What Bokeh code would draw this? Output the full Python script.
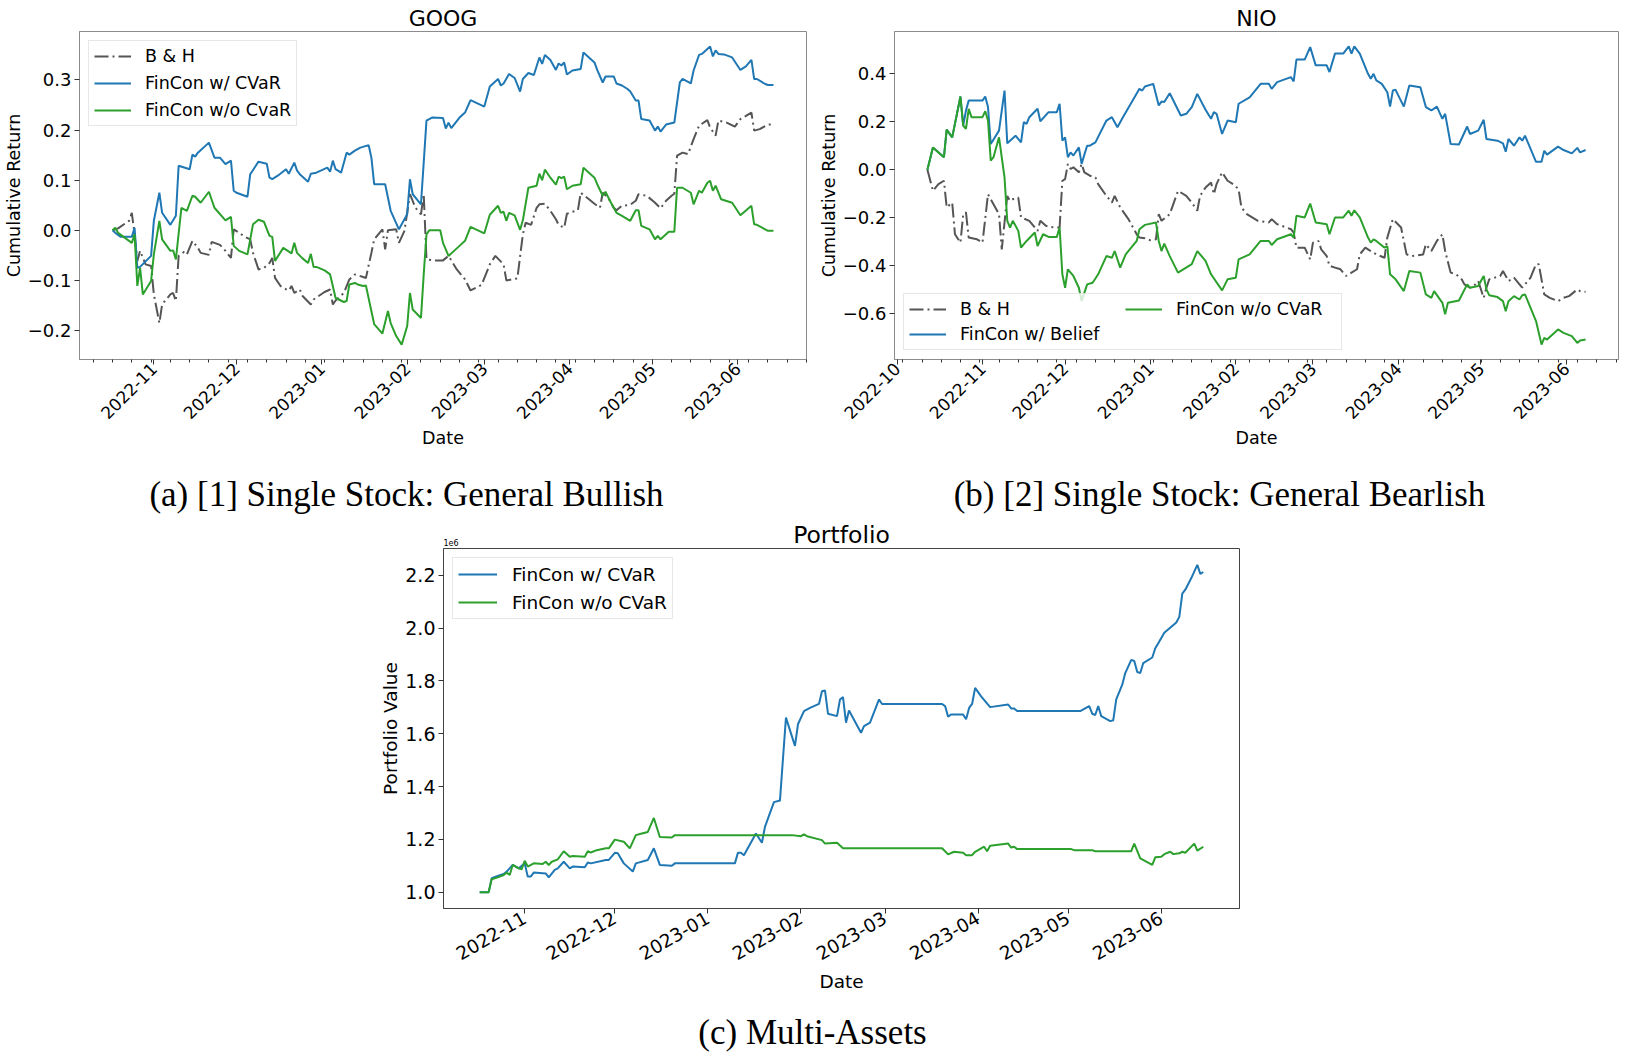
import math
import pandas as pd
from bokeh.plotting import figure
from bokeh.layouts import column, row, Spacer
from bokeh.models import (Range1d, FixedTicker, CustomJSTickFormatter, Legend, LegendItem)
from bokeh.core.properties import value
from bokeh.embed import file_html
from bokeh.resources import INLINE

# ---------------- data (date "MM-DD", Sep-Dec = 2022, Jan-Jun = 2023) ----------------
GOOG_BH = [("10-17", 0.000), ("10-19", 0.004), ("10-23", 0.019), ("10-24", 0.035), ("10-25", -0.008),
           ("10-26", -0.061), ("10-27", -0.041), ("10-29", -0.068), ("10-31", -0.071), ("11-01", -0.128),
           ("11-03", -0.185), ("11-04", -0.148), ("11-05", -0.141), ("11-07", -0.128), ("11-08", -0.125),
           ("11-09", -0.141), ("11-10", -0.051), ("11-12", -0.043), ("11-13", -0.048), ("11-15", -0.021),
           ("11-17", -0.035), ("11-18", -0.045), ("11-21", -0.049), ("11-22", -0.023), ("11-25", -0.029),
           ("11-27", -0.041), ("11-29", -0.055), ("11-30", 0.002), ("12-02", -0.005), ("12-04", -0.013),
           ("12-06", -0.018), ("12-07", -0.045), ("12-09", -0.078), ("12-11", -0.075), ("12-13", -0.065),
           ("12-14", -0.055), ("12-15", -0.095), ("12-17", -0.111), ("12-18", -0.115), ("12-20", -0.120),
           ("12-21", -0.111), ("12-22", -0.125), ("12-24", -0.118), ("12-25", -0.131), ("12-28", -0.148),
           ("12-29", -0.138), ("01-02", -0.123), ("01-04", -0.118), ("01-05", -0.148), ("01-06", -0.140),
           ("01-09", -0.125), ("01-11", -0.098), ("01-13", -0.088), ("01-16", -0.093), ("01-17", -0.095),
           ("01-19", -0.045), ("01-20", -0.018), ("01-23", 0.002), ("01-24", -0.038), ("01-25", 0.000),
           ("01-28", 0.002), ("01-29", -0.025), ("01-31", -0.001), ("02-02", 0.072), ("02-04", 0.045),
           ("02-06", 0.032), ("02-07", 0.072), ("02-08", -0.058), ("02-11", -0.060), ("02-14", -0.060),
           ("02-16", -0.051), ("02-19", -0.078), ("02-22", -0.098), ("02-24", -0.120), ("02-28", -0.109),
           ("03-03", -0.068), ("03-05", -0.051), ("03-08", -0.068), ("03-09", -0.100), ("03-13", -0.096),
           ("03-15", -0.008), ("03-16", 0.015), ("03-18", 0.011), ("03-20", 0.045), ("03-21", 0.052),
           ("03-23", 0.053), ("03-25", 0.039), ("03-27", 0.022), ("03-28", 0.011), ("03-30", 0.005),
           ("03-31", 0.033), ("04-02", 0.037), ("04-04", 0.040), ("04-05", 0.075), ("04-08", 0.062),
           ("04-10", 0.053), ("04-12", 0.045), ("04-13", 0.075), ("04-15", 0.065), ("04-17", 0.045),
           ("04-18", 0.040), ("04-20", 0.049), ("04-23", 0.051), ("04-25", 0.059), ("04-26", 0.072),
           ("04-29", 0.069), ("05-02", 0.055), ("05-04", 0.044), ("05-06", 0.059), ("05-08", 0.069),
           ("05-09", 0.073), ("05-10", 0.149), ("05-12", 0.155), ("05-14", 0.152), ("05-16", 0.182),
           ("05-18", 0.209), ("05-21", 0.220), ("05-22", 0.205), ("05-24", 0.189), ("05-25", 0.219),
           ("05-28", 0.215), ("05-31", 0.207), ("06-02", 0.222), ("06-06", 0.235), ("06-07", 0.199),
           ("06-09", 0.202), ("06-12", 0.211), ("06-14", 0.211)]

GOOG_CVAR = [("10-17", 0.000), ("10-18", -0.005), ("10-20", -0.013), ("10-24", -0.013), ("10-25", 0.005),
             ("10-26", -0.075), ("10-27", -0.073), ("10-31", -0.051), ("11-01", 0.019), ("11-03", 0.075),
             ("11-04", 0.035), ("11-07", 0.011), ("11-09", 0.029), ("11-10", 0.129), ("11-14", 0.122),
             ("11-15", 0.151), ("11-16", 0.147), ("11-17", 0.155), ("11-21", 0.175), ("11-23", 0.145),
             ("11-25", 0.145), ("11-27", 0.132), ("11-29", 0.139), ("11-30", 0.079), ("12-01", 0.075),
             ("12-05", 0.067), ("12-06", 0.112), ("12-09", 0.137), ("12-12", 0.133), ("12-13", 0.105),
             ("12-14", 0.102), ("12-16", 0.109), ("12-19", 0.122), ("12-20", 0.113), ("12-22", 0.135),
             ("12-23", 0.119), ("12-24", 0.112), ("12-27", 0.097), ("12-28", 0.113), ("12-30", 0.115),
             ("01-03", 0.125), ("01-04", 0.117), ("01-05", 0.139), ("01-06", 0.122), ("01-08", 0.115),
             ("01-10", 0.155), ("01-11", 0.151), ("01-13", 0.159), ("01-15", 0.165), ("01-18", 0.170),
             ("01-19", 0.145), ("01-20", 0.092), ("01-24", 0.092), ("01-26", 0.039), ("01-29", 0.002),
             ("02-01", 0.032), ("02-02", 0.102), ("02-03", 0.072), ("02-06", 0.052), ("02-08", 0.219),
             ("02-10", 0.225), ("02-14", 0.224), ("02-15", 0.203), ("02-16", 0.215), ("02-17", 0.204),
             ("02-20", 0.225), ("02-22", 0.235), ("02-24", 0.260), ("03-01", 0.247), ("03-03", 0.287),
             ("03-06", 0.302), ("03-07", 0.289), ("03-08", 0.293), ("03-10", 0.312), ("03-12", 0.304),
             ("03-14", 0.277), ("03-15", 0.302), ("03-17", 0.314), ("03-19", 0.310), ("03-21", 0.345),
             ("03-22", 0.332), ("03-23", 0.350), ("03-25", 0.340), ("03-27", 0.320), ("03-28", 0.333),
             ("03-29", 0.329), ("03-30", 0.335), ("03-31", 0.311), ("04-02", 0.319), ("04-05", 0.322),
             ("04-06", 0.355), ("04-08", 0.345), ("04-10", 0.335), ("04-11", 0.320), ("04-13", 0.295),
             ("04-14", 0.307), ("04-17", 0.307), ("04-18", 0.293), ("04-20", 0.289), ("04-22", 0.282),
             ("04-23", 0.277), ("04-25", 0.259), ("04-26", 0.259), ("04-27", 0.222), ("04-30", 0.219),
             ("05-02", 0.199), ("05-03", 0.207), ("05-04", 0.197), ("05-06", 0.211), ("05-09", 0.215),
             ("05-11", 0.295), ("05-12", 0.302), ("05-15", 0.293), ("05-16", 0.319), ("05-18", 0.350),
             ("05-19", 0.352), ("05-22", 0.367), ("05-23", 0.347), ("05-24", 0.359), ("05-25", 0.352),
             ("05-27", 0.351), ("05-30", 0.345), ("06-02", 0.320), ("06-04", 0.327), ("06-06", 0.340),
             ("06-07", 0.302), ("06-08", 0.302), ("06-11", 0.292), ("06-12", 0.290), ("06-14", 0.290)]

GOOG_NOCVAR = [("10-17", 0.000), ("10-18", 0.005), ("10-19", -0.005), ("10-24", -0.025), ("10-25", -0.008),
               ("10-26", -0.111), ("10-27", -0.075), ("10-28", -0.128), ("10-31", -0.101), ("11-01", -0.048),
               ("11-03", 0.019), ("11-04", -0.018), ("11-07", -0.041), ("11-08", -0.040), ("11-09", -0.058),
               ("11-11", 0.045), ("11-13", 0.039), ("11-15", 0.069), ("11-16", 0.067), ("11-18", 0.055),
               ("11-21", 0.077), ("11-23", 0.045), ("11-27", 0.020), ("11-29", 0.027), ("11-30", -0.031),
               ("12-02", -0.041), ("12-05", -0.048), ("12-07", 0.012), ("12-09", 0.021), ("12-11", 0.017),
               ("12-13", -0.011), ("12-14", -0.013), ("12-15", -0.061), ("12-18", -0.035), ("12-21", -0.046),
               ("12-22", -0.025), ("12-23", -0.045), ("12-25", -0.056), ("12-27", -0.065), ("12-28", -0.047),
               ("12-29", -0.073), ("12-30", -0.073), ("01-02", -0.080), ("01-04", -0.088), ("01-06", -0.135),
               ("01-09", -0.143), ("01-10", -0.141), ("01-11", -0.108), ("01-13", -0.105), ("01-14", -0.108),
               ("01-16", -0.111), ("01-17", -0.110), ("01-20", -0.187), ("01-23", -0.206), ("01-25", -0.161),
               ("01-26", -0.185), ("01-28", -0.211), ("01-30", -0.228), ("02-01", -0.191), ("02-02", -0.125),
               ("02-03", -0.158), ("02-06", -0.175), ("02-07", -0.088), ("02-08", -0.008), ("02-09", 0.000),
               ("02-13", 0.000), ("02-14", -0.025), ("02-16", -0.051), ("02-20", -0.031), ("02-22", -0.021),
               ("02-24", 0.007), ("03-01", -0.006), ("03-03", 0.031), ("03-06", 0.049), ("03-07", 0.035),
               ("03-08", 0.037), ("03-09", 0.019), ("03-10", 0.035), ("03-12", 0.030), ("03-14", 0.001),
               ("03-15", 0.020), ("03-17", 0.085), ("03-20", 0.089), ("03-21", 0.113), ("03-22", 0.100),
               ("03-23", 0.121), ("03-25", 0.105), ("03-27", 0.091), ("03-28", 0.107), ("03-29", 0.104),
               ("03-30", 0.107), ("03-31", 0.082), ("04-02", 0.089), ("04-05", 0.092), ("04-06", 0.125),
               ("04-08", 0.115), ("04-10", 0.105), ("04-11", 0.092), ("04-13", 0.069), ("04-14", 0.077),
               ("04-16", 0.055), ("04-18", 0.035), ("04-20", 0.029), ("04-23", 0.019), ("04-25", 0.040),
               ("04-26", 0.040), ("04-27", 0.009), ("04-30", 0.002), ("05-02", -0.018), ("05-03", -0.011),
               ("05-04", -0.018), ("05-07", -0.003), ("05-09", -0.003), ("05-10", 0.085), ("05-12", 0.085),
               ("05-15", 0.075), ("05-16", 0.052), ("05-18", 0.079), ("05-19", 0.075), ("05-21", 0.095),
               ("05-22", 0.099), ("05-23", 0.079), ("05-24", 0.089), ("05-26", 0.062), ("05-30", 0.055),
               ("06-02", 0.030), ("06-06", 0.049), ("06-07", 0.012), ("06-08", 0.011), ("06-12", -0.001),
               ("06-14", -0.001)]

NIO_BH = [("10-12", 0.000), ("10-14", -0.088), ("10-16", -0.060), ("10-18", -0.046), ("10-19", -0.157),
          ("10-21", -0.137), ("10-22", -0.269), ("10-24", -0.304), ("10-25", -0.185), ("10-26", -0.178),
          ("10-27", -0.283), ("10-30", -0.290), ("10-31", -0.297), ("11-01", -0.304), ("11-03", -0.102),
          ("11-04", -0.123), ("11-07", -0.185), ("11-08", -0.332), ("11-10", -0.109), ("11-11", -0.130),
          ("11-12", -0.123), ("11-14", -0.116), ("11-15", -0.199), ("11-18", -0.213), ("11-21", -0.255),
          ("11-22", -0.213), ("11-24", -0.234), ("11-27", -0.241), ("11-29", -0.241), ("11-30", -0.046),
          ("12-01", -0.039), ("12-02", 0.024), ("12-03", 0.003), ("12-04", 0.010), ("12-06", -0.011),
          ("12-07", 0.024), ("12-08", -0.011), ("12-10", -0.025), ("12-12", -0.032), ("12-13", -0.060),
          ("12-16", -0.109), ("12-18", -0.137), ("12-19", -0.109), ("12-21", -0.157), ("12-24", -0.206),
          ("12-27", -0.269), ("12-28", -0.283), ("12-30", -0.286), ("01-01", -0.294), ("01-03", -0.290),
          ("01-04", -0.185), ("01-05", -0.213), ("01-08", -0.185), ("01-11", -0.088), ("01-14", -0.109),
          ("01-16", -0.137), ("01-18", -0.171), ("01-19", -0.109), ("01-21", -0.074), ("01-23", -0.053),
          ("01-24", -0.102), ("01-25", -0.060), ("01-27", -0.011), ("01-29", -0.046), ("01-31", -0.060),
          ("02-02", -0.081), ("02-03", -0.157), ("02-05", -0.185), ("02-09", -0.213), ("02-13", -0.220),
          ("02-14", -0.206), ("02-16", -0.227), ("02-21", -0.248), ("02-22", -0.262), ("02-23", -0.325),
          ("02-26", -0.325), ("02-28", -0.374), ("03-01", -0.304), ("03-03", -0.297), ("03-04", -0.332),
          ("03-06", -0.360), ("03-07", -0.401), ("03-09", -0.408), ("03-11", -0.415), ("03-13", -0.443),
          ("03-15", -0.429), ("03-17", -0.415), ("03-18", -0.353), ("03-20", -0.325), ("03-22", -0.339),
          ("03-24", -0.353), ("03-27", -0.367), ("03-28", -0.283), ("03-30", -0.206), ("04-02", -0.241),
          ("04-03", -0.297), ("04-04", -0.353), ("04-06", -0.360), ("04-10", -0.353), ("04-11", -0.311),
          ("04-13", -0.339), ("04-15", -0.297), ("04-17", -0.269), ("04-18", -0.339), ("04-20", -0.429),
          ("04-22", -0.436), ("04-24", -0.457), ("04-25", -0.478), ("04-27", -0.492), ("04-29", -0.478),
          ("04-30", -0.464), ("05-02", -0.534), ("05-03", -0.492), ("05-04", -0.457), ("05-06", -0.450),
          ("05-08", -0.443), ("05-09", -0.422), ("05-11", -0.464), ("05-13", -0.450), ("05-15", -0.478),
          ("05-16", -0.492), ("05-17", -0.478), ("05-19", -0.450), ("05-21", -0.394), ("05-22", -0.394),
          ("05-24", -0.520), ("05-26", -0.534), ("05-29", -0.548), ("05-31", -0.534), ("06-02", -0.527),
          ("06-05", -0.499), ("06-06", -0.506), ("06-08", -0.509)]

NIO_BELIEF = [("10-12", 0.000), ("10-14", 0.093), ("10-18", 0.052), ("10-19", 0.167), ("10-21", 0.135),
              ("10-24", 0.305), ("10-25", 0.184), ("10-26", 0.247), ("10-27", 0.288), ("11-01", 0.288),
              ("11-02", 0.305), ("11-03", 0.261), ("11-04", 0.107), ("11-07", 0.163), ("11-09", 0.330),
              ("11-10", 0.110), ("11-13", 0.142), ("11-15", 0.114), ("11-16", 0.198), ("11-17", 0.191),
              ("11-18", 0.219), ("11-21", 0.254), ("11-22", 0.202), ("11-25", 0.240), ("11-28", 0.240),
              ("11-29", 0.275), ("11-30", 0.121), ("12-01", 0.135), ("12-02", 0.052), ("12-03", 0.072),
              ("12-04", 0.059), ("12-06", 0.093), ("12-07", 0.024), ("12-08", 0.063), ("12-09", 0.100),
              ("12-10", 0.100), ("12-12", 0.114), ("12-16", 0.205), ("12-18", 0.219), ("12-20", 0.177),
              ("12-22", 0.219), ("12-28", 0.337), ("12-29", 0.330), ("12-30", 0.347), ("01-02", 0.358),
              ("01-04", 0.268), ("01-05", 0.284), ("01-06", 0.282), ("01-08", 0.319), ("01-12", 0.226),
              ("01-14", 0.233), ("01-16", 0.261), ("01-18", 0.316), ("01-21", 0.250), ("01-23", 0.212),
              ("01-24", 0.240), ("01-25", 0.233), ("01-27", 0.149), ("01-29", 0.205), ("02-01", 0.198),
              ("02-02", 0.275), ("02-06", 0.302), ("02-10", 0.358), ("02-13", 0.358), ("02-14", 0.337),
              ("02-16", 0.365), ("02-21", 0.386), ("02-22", 0.368), ("02-23", 0.459), ("02-26", 0.459),
              ("02-28", 0.511), ("03-02", 0.435), ("03-06", 0.435), ("03-07", 0.407), ("03-09", 0.484),
              ("03-12", 0.484), ("03-14", 0.514), ("03-15", 0.484), ("03-16", 0.514), ("03-18", 0.484),
              ("03-21", 0.400), ("03-22", 0.379), ("03-23", 0.400), ("03-24", 0.372), ("03-26", 0.358),
              ("03-28", 0.323), ("03-29", 0.263), ("03-30", 0.330), ("03-31", 0.333), ("04-03", 0.263),
              ("04-05", 0.351), ("04-09", 0.344), ("04-11", 0.261), ("04-13", 0.247), ("04-15", 0.263),
              ("04-17", 0.212), ("04-18", 0.233), ("04-20", 0.107), ("04-23", 0.105), ("04-26", 0.180),
              ("04-27", 0.149), ("04-30", 0.163), ("05-02", 0.208), ("05-03", 0.128), ("05-07", 0.121),
              ("05-09", 0.110), ("05-10", 0.075), ("05-11", 0.128), ("05-13", 0.100), ("05-15", 0.135),
              ("05-16", 0.121), ("05-17", 0.142), ("05-21", 0.033), ("05-23", 0.033), ("05-24", 0.079),
              ("05-25", 0.063), ("05-29", 0.096), ("05-31", 0.082), ("06-03", 0.068), ("06-05", 0.091),
              ("06-06", 0.072), ("06-08", 0.082)]

NIO_NOCVAR = [("10-12", 0.000), ("10-14", 0.093), ("10-18", 0.052), ("10-19", 0.167), ("10-21", 0.135),
              ("10-24", 0.305), ("10-25", 0.184), ("10-26", 0.170), ("10-27", 0.254), ("10-28", 0.219),
              ("11-01", 0.219), ("11-02", 0.244), ("11-03", 0.205), ("11-04", 0.038), ("11-05", 0.052),
              ("11-07", 0.135), ("11-09", -0.032), ("11-10", -0.213), ("11-11", -0.241), ("11-12", -0.213),
              ("11-14", -0.255), ("11-15", -0.325), ("11-17", -0.297), ("11-20", -0.262), ("11-21", -0.318),
              ("11-23", -0.269), ("11-25", -0.280), ("11-28", -0.280), ("11-29", -0.241), ("11-30", -0.436),
              ("12-01", -0.492), ("12-02", -0.415), ("12-04", -0.443), ("12-06", -0.492), ("12-07", -0.548),
              ("12-09", -0.478), ("12-11", -0.471), ("12-13", -0.436), ("12-16", -0.360), ("12-18", -0.367),
              ("12-19", -0.339), ("12-21", -0.408), ("12-23", -0.353), ("12-27", -0.297), ("12-28", -0.248),
              ("12-30", -0.230), ("01-03", -0.220), ("01-04", -0.297), ("01-05", -0.339), ("01-06", -0.308),
              ("01-08", -0.360), ("01-11", -0.429), ("01-16", -0.394), ("01-18", -0.339), ("01-21", -0.380),
              ("01-23", -0.436), ("01-27", -0.503), ("01-29", -0.457), ("02-01", -0.450), ("02-02", -0.374),
              ("02-06", -0.353), ("02-10", -0.297), ("02-13", -0.297), ("02-14", -0.314), ("02-16", -0.290),
              ("02-21", -0.269), ("02-22", -0.283), ("02-23", -0.192), ("02-26", -0.199), ("02-28", -0.141),
              ("03-02", -0.220), ("03-06", -0.227), ("03-07", -0.269), ("03-09", -0.199), ("03-12", -0.199),
              ("03-14", -0.171), ("03-15", -0.192), ("03-16", -0.169), ("03-18", -0.199), ("03-21", -0.283),
              ("03-22", -0.304), ("03-23", -0.290), ("03-24", -0.297), ("03-27", -0.325), ("03-28", -0.318),
              ("03-29", -0.436), ("03-31", -0.457), ("04-03", -0.506), ("04-05", -0.422), ("04-09", -0.429),
              ("04-11", -0.520), ("04-13", -0.534), ("04-14", -0.506), ("04-17", -0.555), ("04-18", -0.603),
              ("04-19", -0.555), ("04-23", -0.545), ("04-26", -0.478), ("04-27", -0.492), ("04-30", -0.485),
              ("05-02", -0.443), ("05-03", -0.499), ("05-04", -0.523), ("05-07", -0.531), ("05-09", -0.548),
              ("05-10", -0.590), ("05-11", -0.548), ("05-13", -0.527), ("05-15", -0.541), ("05-16", -0.523),
              ("05-17", -0.520), ("05-21", -0.631), ("05-23", -0.729), ("05-24", -0.701), ("05-25", -0.708),
              ("05-29", -0.666), ("05-31", -0.680), ("06-03", -0.694), ("06-05", -0.722), ("06-06", -0.712),
              ("06-08", -0.708)]

PF_CVAR = [("10-17", 1.000), ("10-20", 1.000), ("10-21", 1.053), ("10-23", 1.061), ("10-25", 1.069),
           ("10-26", 1.078), ("10-28", 1.103), ("10-30", 1.090), ("11-01", 1.109), ("11-02", 1.059),
           ("11-03", 1.059), ("11-04", 1.074), ("11-08", 1.071), ("11-09", 1.056), ("11-11", 1.084),
           ("11-12", 1.090), ("11-14", 1.115), ("11-16", 1.090), ("11-17", 1.097), ("11-21", 1.094),
           ("11-22", 1.112), ("11-23", 1.109), ("11-28", 1.122), ("11-29", 1.122), ("12-01", 1.149),
           ("12-02", 1.147), ("12-04", 1.109), ("12-07", 1.078), ("12-08", 1.109), ("12-12", 1.122),
           ("12-14", 1.166), ("12-16", 1.103), ("12-20", 1.100), ("12-21", 1.109), ("01-10", 1.109),
           ("01-11", 1.149), ("01-12", 1.149), ("01-13", 1.140), ("01-17", 1.222), ("01-19", 1.187),
           ("01-20", 1.247), ("01-23", 1.341), ("01-25", 1.347), ("01-27", 1.661), ("01-30", 1.554),
           ("01-31", 1.636), ("02-02", 1.686), ("02-04", 1.698), ("02-07", 1.713), ("02-08", 1.761),
           ("02-09", 1.764), ("02-10", 1.676), ("02-13", 1.667), ("02-14", 1.730), ("02-15", 1.739),
           ("02-16", 1.642), ("02-17", 1.688), ("02-21", 1.604), ("02-22", 1.629), ("02-24", 1.642),
           ("02-27", 1.730), ("02-28", 1.713), ("03-20", 1.713), ("03-21", 1.705), ("03-22", 1.665),
           ("03-23", 1.673), ("03-27", 1.673), ("03-28", 1.655), ("03-29", 1.698), ("03-30", 1.713),
           ("03-31", 1.774), ("04-02", 1.742), ("04-05", 1.701), ("04-11", 1.711), ("04-12", 1.696),
           ("04-13", 1.696), ("04-14", 1.686), ("05-05", 1.686), ("05-08", 1.705), ("05-09", 1.676),
           ("05-10", 1.671), ("05-11", 1.705), ("05-12", 1.667), ("05-15", 1.648), ("05-16", 1.651),
           ("05-17", 1.730), ("05-19", 1.786), ("05-20", 1.830), ("05-22", 1.880), ("05-23", 1.876),
           ("05-24", 1.834), ("05-25", 1.830), ("05-26", 1.868), ("05-29", 1.889), ("05-30", 1.924),
           ("05-31", 1.943), ("06-02", 1.983), ("06-06", 2.022), ("06-07", 2.043), ("06-08", 2.131),
           ("06-09", 2.146), ("06-11", 2.190), ("06-13", 2.240), ("06-14", 2.206), ("06-15", 2.213)]

PF_NOCVAR = [("10-17", 1.000), ("10-20", 1.000), ("10-21", 1.049), ("10-23", 1.056), ("10-25", 1.065),
             ("10-26", 1.074), ("10-27", 1.065), ("10-28", 1.103), ("10-30", 1.090), ("10-31", 1.087),
             ("11-01", 1.119), ("11-02", 1.097), ("11-04", 1.109), ("11-07", 1.107), ("11-08", 1.115),
             ("11-09", 1.103), ("11-10", 1.115), ("11-12", 1.124), ("11-14", 1.155), ("11-16", 1.134),
             ("11-17", 1.137), ("11-21", 1.134), ("11-22", 1.155), ("11-23", 1.150), ("11-25", 1.159),
             ("11-28", 1.166), ("11-29", 1.166), ("12-01", 1.199), ("12-04", 1.191), ("12-06", 1.166),
             ("12-08", 1.216), ("12-10", 1.222), ("12-12", 1.228), ("12-14", 1.281), ("12-16", 1.209),
             ("12-20", 1.207), ("12-21", 1.216), ("01-29", 1.216), ("02-01", 1.212), ("02-02", 1.219),
             ("02-03", 1.212), ("02-08", 1.197), ("02-09", 1.184), ("02-13", 1.187), ("02-15", 1.166),
             ("03-20", 1.166), ("03-22", 1.143), ("03-24", 1.153), ("03-27", 1.149), ("03-28", 1.140),
             ("03-30", 1.140), ("03-31", 1.153), ("04-03", 1.172), ("04-04", 1.155), ("04-05", 1.176),
             ("04-11", 1.184), ("04-12", 1.169), ("04-13", 1.172), ("04-14", 1.163), ("05-02", 1.163),
             ("05-03", 1.159), ("05-09", 1.159), ("05-10", 1.155), ("05-22", 1.155), ("05-23", 1.184),
             ("05-25", 1.128), ("05-29", 1.103), ("05-30", 1.132), ("06-01", 1.134), ("06-02", 1.144),
             ("06-04", 1.153), ("06-05", 1.144), ("06-07", 1.147), ("06-08", 1.153), ("06-09", 1.149),
             ("06-12", 1.184), ("06-13", 1.157), ("06-15", 1.172)]

GOOG_YTICKS = [-0.2, -0.1, 0.0, 0.1, 0.2, 0.3]
NIO_YTICKS = [-0.6, -0.4, -0.2, 0.0, 0.2, 0.4]
PF_YTICKS = [1.0, 1.2, 1.4, 1.6, 1.8, 2.0, 2.2]

CAPTION_A = "(a) [1] Single Stock: General Bullish"
CAPTION_B = "(b) [2] Single Stock: General Bearlish"
CAPTION_C = "(c) Multi-Assets"

# ---------------- styling ----------------
FONT = "DejaVu Sans"
SERIF = "Liberation Serif"
BLUE = "#1f77b4"
GREEN = "#2ca02c"
GRAY = "#555555"
BH_DASH = "14 4 2 4"
LW = 2

XFMT = ("const d = new Date(tick); const m = d.getUTCMonth() + 1;"
        "return d.getUTCFullYear() + '-' + (m < 10 ? '0' : '') + m;")
YFMT = "return (tick < -1e-9 ? '\u2212' : '') + Math.abs(tick).toFixed(1);"


def series(pairs):
    xs = [pd.Timestamp(("2022-" if int(d[:2]) >= 9 else "2023-") + d) for d, _ in pairs]
    ys = [v for _, v in pairs]
    return xs, ys


def ranges(all_series):
    xs = [x for s in all_series for x in s[0]]
    ys = [y for s in all_series for y in s[1]]
    x0, x1 = min(xs), max(xs)
    dx = (x1 - x0) * 0.05
    y0, y1 = min(ys), max(ys)
    dy = (y1 - y0) * 0.05
    return (x0 - dx, x1 + dx), (y0 - dy, y1 + dy)


def ms(t):
    return t.value / 1e6


def make_plot(title, data, yticks, ylabel, width, height, mbl, mbr, mbt, mbb,
              frame_color, xtick_fs, ytick_fs, label_fs, title_fs, rot, weekly_minor,
              x_std, xl_std):
    (x0, x1), (y0, y1) = ranges([d[0] for d in data])
    p = figure(width=width, height=height, x_axis_type="datetime", title=title,
               x_range=Range1d(ms(x0), ms(x1)), y_range=Range1d(y0, y1),
               output_backend="svg", toolbar_location=None,
               min_border_left=mbl, min_border_right=mbr,
               min_border_top=mbt, min_border_bottom=mbb)
    if title is not None:
        p.title.align = "center"
        p.title.text_font = FONT
        p.title.text_font_size = title_fs
        p.title.text_font_style = "normal"
        p.title.text_color = "black"
        p.title.standoff = 2
    p.xgrid.visible = False
    p.ygrid.visible = False
    p.outline_line_color = frame_color
    p.outline_line_alpha = 1
    p.background_fill_color = "white"
    p.border_fill_color = "white"

    months = [t for t in pd.date_range(x0.normalize().replace(day=1), x1, freq="MS") if x0 <= t <= x1]
    minors = []
    if weekly_minor:
        minors = [ms(t) for t in pd.date_range(x0, x1, freq="W-MON")]
    xa = p.xaxis[0]
    ya = p.yaxis[0]
    xa.ticker = FixedTicker(ticks=[ms(t) for t in months], minor_ticks=minors)
    xa.formatter = CustomJSTickFormatter(code=XFMT)
    xa.major_label_orientation = rot
    ya.ticker = FixedTicker(ticks=yticks)
    ya.formatter = CustomJSTickFormatter(code=YFMT)
    for ax in (xa, ya):
        ax.axis_line_color = frame_color
        ax.major_tick_line_color = "#333333"
        ax.minor_tick_line_color = "#333333"
        ax.major_tick_out = 5
        ax.major_tick_in = 0
        ax.minor_tick_out = 3
        ax.minor_tick_in = 0
        ax.major_label_text_font = FONT
        ax.major_label_text_color = "black"
        ax.axis_label_text_font = FONT
        ax.axis_label_text_font_size = label_fs
        ax.axis_label_text_font_style = "normal"
        ax.axis_label_text_color = "black"
    xa.major_label_text_font_size = xtick_fs
    ya.major_label_text_font_size = ytick_fs
    ya.minor_tick_line_color = None
    if not weekly_minor:
        xa.minor_tick_line_color = None
    xa.axis_label = "Date"
    ya.axis_label = ylabel
    xa.major_label_standoff = x_std
    xa.axis_label_standoff = xl_std
    ya.major_label_standoff = 3
    ya.axis_label_standoff = 1

    renderers = []
    for (xs, ys), label, color, dash in data:
        r = p.line(xs, ys, line_color=color, line_width=LW, line_dash=dash)
        renderers.append((label, r))
    return p, renderers


def text_strip(width, height, texts):
    """A bare strip (no axes) whose data units are pixels, holding free text."""
    s = figure(width=width, height=height, x_range=Range1d(0, width), y_range=Range1d(0, height),
               output_backend="svg", toolbar_location=None,
               x_axis_location=None, y_axis_location=None, min_border=0)
    s.grid.visible = False
    s.outline_line_color = None
    s.background_fill_color = "white"
    s.border_fill_color = "white"
    for x, y, txt, font, size, align, baseline in texts:
        s.text(x=[x], y=[y], text=[txt], text_font=value(font), text_font_size=value(size),
               text_align=align, text_baseline=baseline, text_color="black")
    return s


def style_legend(lg, fs, glyph_w, standoff, label_h, spacing):
    lg.label_text_font = FONT
    lg.label_text_font_size = fs
    lg.label_text_color = "black"
    lg.glyph_width = glyph_w
    lg.glyph_height = label_h
    lg.label_height = label_h
    lg.label_standoff = standoff
    lg.spacing = spacing
    lg.padding = 5
    lg.margin = 9
    lg.border_line_color = "#d0d0d0"
    lg.border_line_width = 1
    lg.background_fill_color = "white"
    lg.background_fill_alpha = 0.8


# ---------------- GOOG ----------------
goog_data = [(series(GOOG_BH), "B & H", GRAY, BH_DASH),
             (series(GOOG_CVAR), "FinCon w/ CVaR", BLUE, "solid"),
             (series(GOOG_NOCVAR), "FinCon w/o CvaR", GREEN, "solid")]
pa, ra = make_plot("GOOG", goog_data, GOOG_YTICKS, "Cumulative Return", 815, 462,
                   73, 9, 31, 103, "#8c8c8c", "17px", "18px", "17.5px", "22px", math.pi / 4, True,
                   1, 0)
lga = Legend(items=[LegendItem(label=l, renderers=[r]) for l, r in ra], location="top_left")
style_legend(lga, "17.5px", 37, 14, 20, 7)
pa.add_layout(lga)

# ---------------- NIO ----------------
nio_data = [(series(NIO_BH), "B & H", GRAY, BH_DASH),
            (series(NIO_BELIEF), "FinCon w/ Belief", BLUE, "solid"),
            (series(NIO_NOCVAR), "FinCon w/o CVaR", GREEN, "solid")]
pb, rb = make_plot("NIO", nio_data, NIO_YTICKS, "Cumulative Return", 815, 462,
                   71, 12, 31, 103, "#8c8c8c", "17px", "18px", "17.5px", "22px", math.pi / 4, True,
                   1, 0)
lgb = Legend(items=[LegendItem(label=l, renderers=[r]) for l, r in rb], location="bottom_left",
             ncols=2)
style_legend(lgb, "17.5px", 37, 14, 20, 5)
lgb.label_width = 160
pb.add_layout(lgb)

# ---------------- captions of the first row ----------------
cap_a = text_strip(815, 53, [(406, 21, CAPTION_A, SERIF, "35px", "center", "middle")])
cap_b = text_strip(815, 53, [(404, 21, CAPTION_B, SERIF, "35px", "center", "middle")])

# ---------------- Portfolio title strip ----------------
pf_head = text_strip(1630, 32, [(841, 13, "Portfolio", FONT, "23.5px", "center", "middle"),
                                (443, 2, "1e6", FONT, "8px", "left", "bottom")])

# ---------------- Portfolio ----------------
pf_data = [(series(PF_CVAR), "FinCon w/ CVaR", BLUE, "solid"),
           (series(PF_NOCVAR), "FinCon w/o CVaR", GREEN, "solid")]
pc, rc = make_plot(None, pf_data, PF_YTICKS, "Portfolio Value", 906, 448,
                   80, 30, 1, 85, "#444444", "18.5px", "19px", "18.5px", "23.5px", math.pi / 6, False,
                   3, 2)
lgc = Legend(items=[LegendItem(label=l, renderers=[r]) for l, r in rc], location="top_left")
style_legend(lgc, "18.5px", 39, 15, 22, 6)
pc.add_layout(lgc)

cap_c = text_strip(1630, 58, [(812, 21, CAPTION_C, SERIF, "35px", "center", "middle")])

layout = column(row(pa, pb), row(cap_a, cap_b), pf_head,
                row(Spacer(width=363, height=448), pc), cap_c)
open("out.html", "w").write(file_html(layout, INLINE, title="FinCon"))
